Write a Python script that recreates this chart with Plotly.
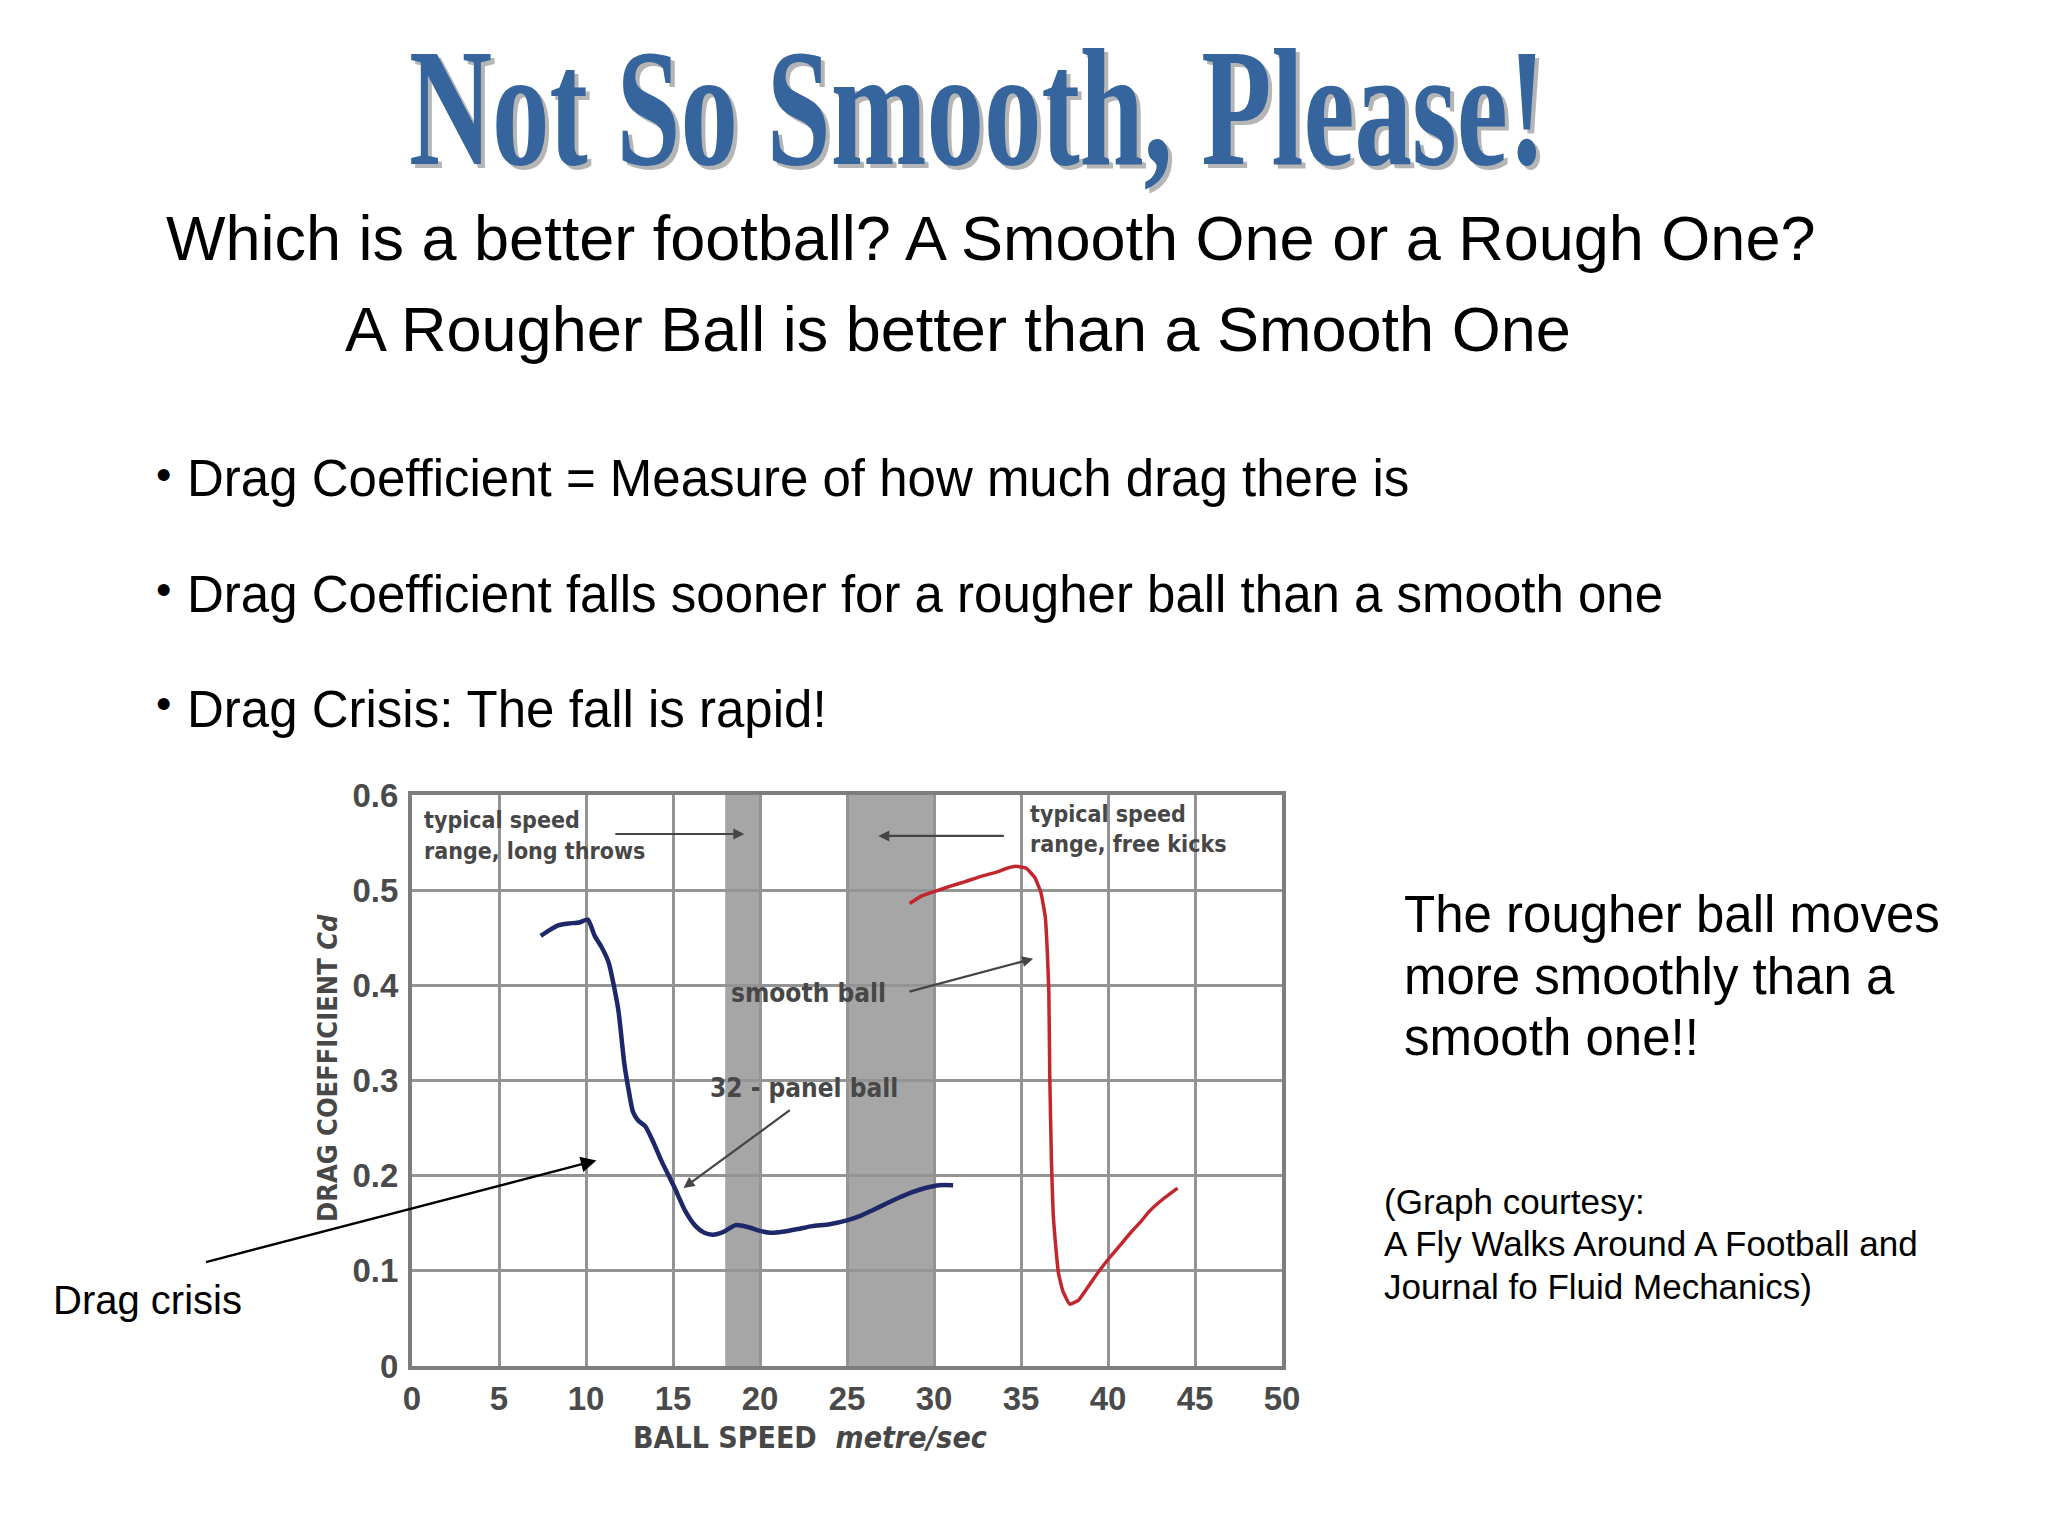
import plotly.graph_objects as go

W, H = 2048, 1536

# ---------------- data ----------------
rough_speed = [7.4, 7.9, 8.4, 9.0, 9.6, 10.1, 10.5, 10.9, 11.3, 11.85, 12.2, 12.45, 12.7, 13.0, 13.4,
               13.8, 14.35, 15.1, 15.7, 16.3, 16.8, 17.3, 17.9, 18.6, 19.3, 20.0, 20.6, 21.3,
               22.2, 23.0, 24.0, 25.0, 25.8, 26.5, 27.3, 28.0, 28.8, 29.5, 30.3, 31.1]
rough_cd = [0.452, 0.458, 0.463, 0.465, 0.466, 0.469, 0.452, 0.44, 0.424, 0.375, 0.318, 0.29, 0.267, 0.258, 0.252,
            0.238, 0.215, 0.187, 0.163, 0.147, 0.140, 0.138, 0.141, 0.148, 0.146, 0.142, 0.140, 0.141,
            0.144, 0.147, 0.149, 0.153, 0.158, 0.164, 0.171, 0.177, 0.183, 0.187, 0.190, 0.190]

smooth_speed = [28.6, 29.3, 30.1, 30.9, 31.8, 32.8, 33.6, 34.2, 34.7, 35.3, 35.8, 36.15, 36.4, 36.5,
                36.6, 36.65, 36.75, 36.85, 37.0, 37.15, 37.4, 37.8, 38.3, 38.96, 39.5, 40.1,
                40.7, 41.3, 41.9, 42.4, 43.2, 44.0]
smooth_cd = [0.486, 0.494, 0.499, 0.504, 0.509, 0.515, 0.519, 0.523, 0.525, 0.523, 0.513, 0.497, 0.471, 0.44,
             0.393, 0.309, 0.215, 0.16, 0.125, 0.098, 0.079, 0.065, 0.069, 0.086, 0.100, 0.114,
             0.127, 0.140, 0.152, 0.163, 0.176, 0.187]

throw_band = [18, 20]
kick_band = [25, 30]

x_ticks = [0, 5, 10, 15, 20, 25, 30, 35, 40, 45, 50]
y_ticks = [0, 0.1, 0.2, 0.3, 0.4, 0.5, 0.6]
y_tick_labels = ["0", "0.1", "0.2", "0.3", "0.4", "0.5", "0.6"]

title_text = "Not So Smooth, Please!"
question_text = "Which is a better football? A Smooth One or a Rough One?"
answer_text = "A Rougher Ball is better than a Smooth One"
bullets = ["Drag Coefficient = Measure of how much drag there is",
           "Drag Coefficient falls sooner for a rougher ball than a smooth one",
           "Drag Crisis: The fall is rapid!"]
side_lines = ["The rougher ball moves", "more smoothly than a", "smooth one!!"]
credit_lines = ["(Graph courtesy:", "A Fly Walks Around A Football and", "Journal fo Fluid Mechanics)"]

# ---------------- layout helpers ----------------
def px(x):
    return x / W

def py(y):
    return 1 - y / H

PL, PR, PT, PB = 412, 1282, 795, 1366

fig = go.Figure()

fig.add_trace(go.Scatter(x=rough_speed, y=rough_cd, mode="lines", name="32 - panel ball",
                         line=dict(color="#1e2869", width=4.5, shape="spline", smoothing=0.6),
                         showlegend=False, hoverinfo="skip"))
fig.add_trace(go.Scatter(x=smooth_speed, y=smooth_cd, mode="lines", name="smooth ball",
                         line=dict(color="#c1272d", width=3.5, shape="spline", smoothing=0.4),
                         showlegend=False, hoverinfo="skip"))

for band in (throw_band, kick_band):
    fig.add_shape(type="rect", xref="x", yref="y", x0=band[0], x1=band[1], y0=0, y1=0.6,
                  fillcolor="#a6a6a6", line=dict(width=0), layer="below")

tick_font = dict(family="Liberation Sans", size=33, color="#4a4a4a", weight="bold")

fig.update_layout(
    width=W, height=H,
    margin=dict(l=0, r=0, t=0, b=0),
    paper_bgcolor="white", plot_bgcolor="white",
    showlegend=False,
    xaxis=dict(domain=[px(PL), px(PR)], range=[0, 50], tickmode="array", tickvals=x_ticks,
               ticktext=[str(v) for v in x_ticks], automargin=False,
               showgrid=True, gridcolor="#949494", gridwidth=3, zeroline=False,
               showline=True, mirror=True, linecolor="#7d7d7d", linewidth=4,
               ticks="", ticklen=0, tickfont=tick_font,
               fixedrange=True),
    yaxis=dict(domain=[py(PB), py(PT)], range=[0, 0.6], tickmode="array", tickvals=y_ticks,
               ticktext=y_tick_labels, automargin=False,
               showgrid=True, gridcolor="#949494", gridwidth=3, zeroline=False,
               showline=True, mirror=True, linecolor="#7d7d7d", linewidth=4,
               ticks="outside", ticklen=3, tickcolor="rgba(0,0,0,0)", tickfont=tick_font,
               fixedrange=True),
)

# ---------------- chart annotations ----------------
COND = "DejaVu Sans Condensed, Liberation Sans"
small_font = dict(family=COND, size=23, color="#474747", weight="bold")
inner_font = dict(family=COND, size=26, color="#474747", weight="bold")

def data_text(x, y, text, font, xanchor="left"):
    fig.add_annotation(x=x, y=y, xref="x", yref="y", text=text, showarrow=False,
                       xanchor=xanchor, yanchor="middle", font=font)

def data_arrow(x, y, ax, ay, color="#454545", width=2.2, head=2, size=1.0):
    fig.add_annotation(x=x, y=y, ax=ax, ay=ay, xref="x", yref="y", axref="x", ayref="y",
                       text="", showarrow=True, arrowhead=head, arrowsize=size,
                       arrowwidth=width, arrowcolor=color)

data_text(0.6, 0.574, "typical speed", small_font)
data_text(0.6, 0.541, "range, long throws", small_font)
data_text(35.4, 0.580, "typical speed", small_font)
data_text(35.4, 0.548, "range, free kicks", small_font)
data_arrow(19.1, 0.559, 11.6, 0.559)
data_arrow(26.8, 0.557, 34.1, 0.557)

data_text(22.8, 0.392, "smooth ball", inner_font, xanchor="center")
data_arrow(35.7, 0.428, 28.5, 0.393)
data_text(22.5, 0.292, "32 - panel ball", inner_font, xanchor="center")
data_arrow(15.6, 0.187, 21.8, 0.27)

# axis titles
fig.add_annotation(x=px(327), y=py(1068), xref="paper", yref="paper",
                   text="DRAG COEFFICIENT <i>Cd</i>", textangle=-90, showarrow=False,
                   xanchor="center", yanchor="middle",
                   font=dict(family=COND, size=27, color="#474747", weight="bold"))
fig.add_annotation(x=px(810), y=py(1437), xref="paper", yref="paper",
                   text="BALL SPEED  <i>metre/sec</i>", showarrow=False,
                   xanchor="center", yanchor="middle",
                   font=dict(family=COND, size=30, color="#474747", weight="bold"))

# drag crisis arrow and label
fig.add_annotation(x=10.6, y=0.216, xref="x", yref="y", ax=-392, ay=102,
                   text="", showarrow=True, arrowhead=2, arrowsize=1.3, arrowwidth=2.4,
                   arrowcolor="black")
body = "Liberation Sans"

def slide_text(x, y, text, size, color="black", xanchor="left"):
    fig.add_annotation(x=px(x), y=py(y), xref="paper", yref="paper", text=text,
                       showarrow=False, xanchor=xanchor, yanchor="middle",
                       font=dict(family=body, size=size, color=color))

slide_text(51, 1300, "Drag crisis", 40)

# ---------------- slide texts ----------------
fig.add_annotation(x=px(977), y=py(107), xref="paper", yref="paper", text=title_text,
                   showarrow=False, xanchor="center", yanchor="middle",
                   font=dict(family="Liberation Serif", size=115, color="#35659c", weight="bold",
                             shadow="5px 4px 0px #b5b5b5"))

slide_text(164, 238, question_text, 63)
slide_text(343, 329, answer_text, 63)

for yy, t in zip([479, 594, 709], bullets):
    slide_text(154, yy - 5, "•", 44)
    slide_text(185, yy, t, 51)

for yy, t in zip([914, 976, 1037], side_lines):
    slide_text(1402, yy, t, 51)

for yy, t in zip([1201, 1243, 1286], credit_lines):
    slide_text(1382, yy, t, 35)

# stretch the WordArt-like title vertically (tall condensed look of the reference)
post = """
document.querySelectorAll('text.annotation-text').forEach(function(t){
  if (t.textContent === 'Not So Smooth, Please!') {
    t.style.transformBox = 'fill-box';
    t.style.transformOrigin = 'center';
    t.style.transform = 'scaleY(1.45)';
  }
});
"""

fig.write_html("out.html", post_script=post)
